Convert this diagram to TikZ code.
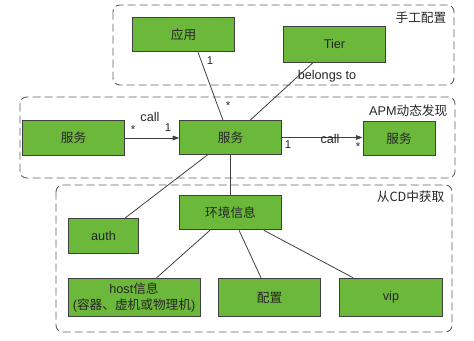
\documentclass[tikz,border=0pt]{standalone}
\usepackage{fontspec}
\setmainfont{Liberation Sans}
\newfontfamily\cjk{Noto Sans CJK SC}
\usetikzlibrary{arrows.meta}
\definecolor{boxgreen}{RGB}{108,184,58}
\definecolor{framegray}{RGB}{95,95,95}
\newcommand{\zh}[1]{{\cjk #1}}

\begin{document}
\begin{tikzpicture}[x=0.75pt,y=-0.75pt,
    every node/.style={font=\fontsize{9.5}{12}\selectfont,text=black!85},
    box/.style={draw=black!75,fill=boxgreen,line width=0.7pt,inner sep=0pt,align=center},
    group/.style={draw=framegray,dash pattern=on 6pt off 3pt,rounded corners=5pt,line width=0.7pt},
    link/.style={draw=black!75,line width=0.6pt},
    tag/.style={font=\fontsize{8.5}{10}\selectfont}]
    \useasboundingbox (0,0) rectangle (474,341);

    % groups
    \draw[group] (113,5) rectangle (454,85);
    \draw[group] (20,97) rectangle (455,178);
    \draw[group] (56,185) rectangle (452,332);
    \node[anchor=east] (g1) at (451,18) {\zh{手工配置}};
    \node[anchor=east] (g2) at (452,111) {APM\zh{动态发现}};
    \node[anchor=east] (g3) at (449,197) {\zh{从CD中获取}};

    % boxes
    \node[box,minimum width=76pt,minimum height=26pt] (app) at (183.5,34.5) {\zh{应用}};
    \node[box,minimum width=77pt,minimum height=27pt] (tier) at (334.5,44) {Tier};
    \node[box,minimum width=76pt,minimum height=26pt] (svcA) at (73.5,138) {\zh{服务}};
    \node[box,minimum width=76pt,minimum height=25pt] (svc) at (230.5,137.5) {\zh{服务}};
    \node[box,minimum width=54pt,minimum height=26pt] (svcB) at (399,138.5) {\zh{服务}};
    \node[box,minimum width=77pt,minimum height=26pt] (env) at (230.5,212.5) {\zh{环境信息}};
    \node[box,minimum width=53pt,minimum height=26pt] (auth) at (103.5,236) {auth};
    \node[box,minimum width=99pt,minimum height=29pt] (host) at (134,297.5) {host\zh{信息}\\(\zh{容器、虚机或物理机})};
    \node[box,minimum width=76pt,minimum height=29pt] (cfg) at (269.5,297.5) {\zh{配置}};
    \node[box,minimum width=77pt,minimum height=29pt] (vip) at (391,297.5) {vip};

    % links
    \draw[link] ([xshift=10.9pt]app.south) -- ([xshift=-5.6pt]svc.north);
    \draw[link] ([xshift=-16pt]tier.south) -- ([xshift=14.6pt]svc.north);
    \draw[link,-{Triangle[length=5pt,width=3.5pt]}] (svcA.east) -- (svcA.east -| svc.west);
    \draw[link,-{Triangle[length=5pt,width=3.5pt]}] (svc.east) -- (svc.east -| svcB.west);
    \draw[link] ([xshift=-17pt]svc.south) -- ([xshift=16pt]auth.north);
    \draw[link] (svc.south) -- (env.north);
    \draw[link] ([xshift=-15.4pt]env.south) -- ([xshift=17pt]host.north);
    \draw[link] ([xshift=6.4pt]env.south) -- ([xshift=-6.4pt]cfg.north);
    \draw[link] ([xshift=25pt]env.south) -- ([xshift=-28.5pt]vip.north);

    % labels
    \node[tag] (l1) at (210,61) {1};
    \node[tag] (l2) at (228,106) {*};
    \node (l3) at (327,76) {belongs to};
    \node (l4) at (150,117) {call};
    \node[tag] (l5) at (133,130) {*};
    \node[tag] (l6) at (168,128) {1};
    \node[tag] (l7) at (288,145) {1};
    \node (l8) at (330,138.5) {call};
    \node[tag] (l9) at (358,147) {*};
\end{tikzpicture}
\end{document}
